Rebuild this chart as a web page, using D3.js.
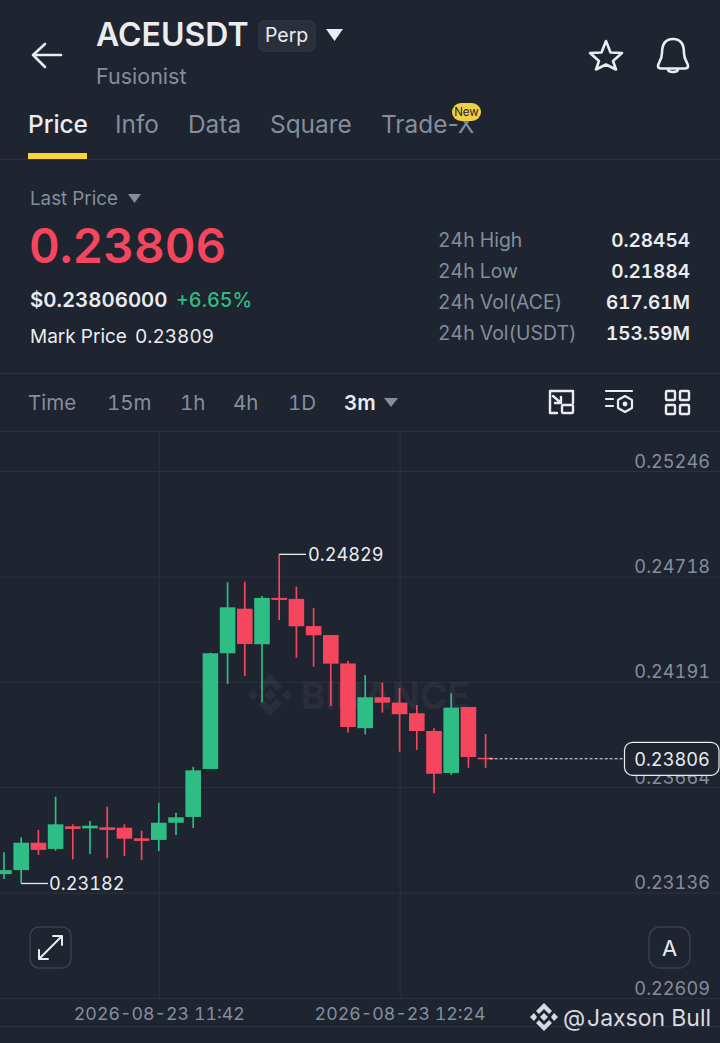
<!DOCTYPE html>
<html>
<head>
<meta charset="utf-8">
<title>ACEUSDT Perp</title>
<script src="https://cdn.jsdelivr.net/npm/d3@7"></script>
<style>
  html, body { margin: 0; padding: 0; background: #1e2430; }
  svg { display: block; }
  text { font-family: Inter, Roboto, sans-serif; font-variant-numeric: tabular-nums; }
</style>
</head>
<body>
<svg id="chart" width="720" height="1043"></svg>
<script>
// 3m candles
const times = ["11:15","11:18","11:21","11:24","11:27","11:30","11:33","11:36","11:39","11:42",
  "11:45","11:48","11:51","11:54","11:57","12:00","12:03","12:06","12:09","12:12",
  "12:15","12:18","12:21","12:24","12:27","12:30","12:33","12:36","12:39"];
const opens = [.23229,.23249,.23386,.23355,.23468,.23458,.23463,.23461,.23408,.23400,
  .23486,.23515,.23755,.24334,.24557,.24379,.24611,.24606,.24470,.24425,
  .24283,.23959,.24114,.24087,.24034,.23945,.23735,.24065,.23811];
const highs = [.23338,.23413,.23450,.23616,.23478,.23495,.23566,.23478,.23446,.23586,
  .23536,.23766,.24337,.24689,.24692,.24621,.24829,.24667,.24560,.24425,
  .24297,.24225,.24187,.24159,.24075,.23959,.24134,.24065,.23930];
const lows = [.23204,.23182,.23325,.23346,.23303,.23330,.23308,.23320,.23300,.23345,
  .23425,.23460,.23755,.24180,.24220,.24089,.24500,.24312,.24267,.24070,
  .23937,.23928,.24037,.23841,.23850,.23633,.23725,.23761,.23761];
const closes = [.23249,.23386,.23350,.23478,.23455,.23471,.23450,.23406,.23395,.23486,
  .23513,.23748,.24334,.24564,.24380,.24611,.24601,.24469,.24424,.24282,
  .23965,.24114,.24087,.24029,.23945,.23731,.24062,.23815,.23806];

const priceTicks = [0.25246, 0.24718, 0.24191, 0.23664, 0.23136, 0.22609];
const timeTicks = ["11:42", "12:24"];
const lastPrice = 0.23806, maxPrice = 0.24829, minPrice = 0.23182;

const tabs = ["Price", "Info", "Data", "Square", "Trade-X"];
const tabX = [28, 115, 188, 270, 381];
const intervals = ["Time", "15m", "1h", "4h", "1D", "3m"];
const intervalX = [28, 107, 180, 233, 288, 344];
const statLabels = ["24h High", "24h Low", "24h Vol(ACE)", "24h Vol(USDT)"];
const statValues = ["0.28454", "0.21884", "617.61M", "153.59M"];

const bg = "#1e2430", grid = "#2c323d", up = "#2ebd85", down = "#f6465d";
const grey = "#848e9c", light = "#eaecef";

const svg = d3.select("#chart");
const parseTime = d3.timeParse("%Y-%m-%d %H:%M");
const toDate = t => parseTime("2026-08-23 " + t);

svg.append("rect").attr("width", 720).attr("height", 1043).attr("fill", bg);

function label(x, y, str, size, fill, opts) {
  opts = opts || {};
  return svg.append("text")
    .attr("x", x).attr("y", y)
    .attr("font-size", size)
    .attr("fill", fill)
    .attr("font-weight", opts.weight || 400)
    .attr("text-anchor", opts.anchor || "start")
    .text(str);
}
function hline(y, x1, x2) {
  svg.append("line").attr("x1", x1 || 0).attr("x2", x2 || 720)
    .attr("y1", y).attr("y2", y).attr("stroke", grid).attr("stroke-width", 1);
}
function icon(d, sw, fill) {
  return svg.append("path").attr("d", d)
    .attr("fill", fill || "none")
    .attr("stroke", fill ? "none" : light)
    .attr("stroke-width", sw || 2.4)
    .attr("stroke-linejoin", "round")
    .attr("stroke-linecap", "round");
}

// header
icon("M33 55H61M45 44L33 55L45 67", 2.6);
label(96, 46, "ACEUSDT", 32, light, { weight: 600 });
svg.append("rect").attr("x", 259).attr("y", 21).attr("width", 56).attr("height", 30).attr("rx", 5)
  .attr("fill", "#2a303b").attr("stroke", "#343a46");
label(265, 42, "Perp", 19.5, light);
icon("M326 29H343L334.5 41Z", 0, light);
label(96, 84, "Fusionist", 21.5, grey);
icon("M606 41L610.5 52.5L622 53L613 61L616 69.5L606 64.5L596 69.5L599 61L590 53L601.5 52.5Z", 2.6);
icon("M673 39C664 39 662 46 662 53C662 60 658 63 658 66C658 68 659 68.5 661 68.5H685C687 68.5 688 68 688 66C688 63 684 60 684 53C684 46 682 39 673 39ZM668 69C668 73 678 73 678 69", 2.6);

tabs.forEach((t, i) => label(tabX[i], 133, t, 24.4, i === 0 ? light : grey, { weight: i === 0 ? 500 : 400 })
  .style("font-variant-numeric", "normal"));
svg.append("rect").attr("x", 452).attr("y", 103).attr("width", 29).attr("height", 18).attr("rx", 9).attr("fill", "#f3cf45");
label(466.5, 116, "New", 11.5, "#1e2430", { anchor: "middle" });
svg.append("rect").attr("x", 28).attr("y", 153).attr("width", 59).attr("height", 6).attr("fill", "#fcd535");
hline(159.5);

// price block
label(30, 205, "Last Price", 18.8, grey);
icon("M128 194H141L134.5 203Z", 0, grey);
label(29, 263, "0.23806", 47.5, down, { weight: 600 });
label(30, 307, "$0.23806000", 20.4, light, { weight: 600 });
label(176, 307, "+6.65%", 19.8, up, { weight: 500 });
label(30, 343, "Mark Price", 19, light);
label(135, 343, "0.23809", 19, light);
statLabels.forEach((t, i) => {
  const y = 247 + i * 31;
  label(438, y, t, 19.4, grey);
  label(690, y, statValues[i], 19, light, { weight: 600, anchor: "end" });
});
hline(373.5);

// interval bar
intervals.forEach((t, i) => label(intervalX[i], 410, t, 20.5, i === 5 ? light : grey, { weight: i === 5 ? 600 : 400 }));
icon("M384 398H398L391 407Z", 0, grey);
icon("M561 391H550V413H557M561 391H573V403M553 396L561 403M561 397V403H555", 2.4);
svg.append("rect").attr("x", 562).attr("y", 405).attr("width", 11).attr("height", 8).attr("rx", 1)
  .attr("fill", "none").attr("stroke", light).attr("stroke-width", 2.4);
icon("M606 391H632M606 399H613M606 406H613M625 396L632 400V408L625 412L618 408V400Z", 2.2);
svg.append("circle").attr("cx", 625).attr("cy", 404).attr("r", 2.4).attr("fill", light);
[[666, 391], [680, 391], [666, 405], [680, 405]].forEach(p => {
  svg.append("rect").attr("x", p[0]).attr("y", p[1]).attr("width", 9).attr("height", 9).attr("rx", 1)
    .attr("fill", "none").attr("stroke", light).attr("stroke-width", 2.4);
});
hline(431.5);

// scales
const x = d3.scaleTime()
  .domain([toDate(times[0]), toDate(times[times.length - 1])])
  .range([4, 485.6]);
const y = d3.scaleLinear()
  .domain([priceTicks[5], priceTicks[0]])
  .range([998, 471]);

// grid + axes
const yAxis = d3.axisLeft(y)
  .tickValues(priceTicks)
  .tickFormat(d3.format(".5f"))
  .tickSize(720)
  .tickPadding(0);
const yG = svg.append("g").attr("transform", "translate(720,0)").call(yAxis);
yG.select(".domain").remove();
yG.selectAll("line").attr("stroke", grid);
yG.selectAll("text")
  .attr("x", -10).attr("dy", -4)
  .attr("text-anchor", "end")
  .attr("font-size", 18.2)
  .attr("fill", grey)
  .style("font-family", "Inter, Roboto, sans-serif");

const xAxis = d3.axisBottom(x)
  .tickValues(timeTicks.map(toDate))
  .tickFormat(d3.timeFormat("%Y-%m-%d %H:%M"))
  .tickSize(566)
  .tickPadding(0);
const xG = svg.append("g").attr("transform", "translate(0,432)").call(xAxis);
xG.select(".domain").remove();
xG.selectAll("line").attr("stroke", grid);
xG.selectAll("text")
  .attr("y", 575)
  .attr("font-size", 17.8)
  .attr("fill", grey)
  .style("font-family", "Inter, Roboto, sans-serif");
hline(1026.5);

// watermark
const mark = svg.append("g").attr("opacity", 0.07).attr("fill", "#aab2c0");
mark.append("path").attr("fill-rule", "evenodd")
  .attr("d", "M270 674L282 686L277 691L270 684L263 691L258 686ZM253 690L258 695L253 700L248 695ZM287 690L292 695L287 700L282 695ZM270 689L276 695L270 701L264 695ZM258 704L263 699L270 706L277 699L282 704L270 716Z");
mark.append("text").attr("x", 301).attr("y", 709).attr("font-size", 37).attr("font-weight", 700).text("BINANCE");

// candles
const candleW = 15.6;
const candles = svg.append("g").selectAll("g")
  .data(times.map((t, i) => ({ t: toDate(t), o: opens[i], h: highs[i], l: lows[i], c: closes[i] })))
  .join("g")
  .attr("fill", d => d.c >= d.o ? up : down)
  .attr("stroke", d => d.c >= d.o ? up : down);
candles.append("line")
  .attr("x1", d => x(d.t)).attr("x2", d => x(d.t))
  .attr("y1", d => y(d.h)).attr("y2", d => y(d.l))
  .attr("stroke-width", 1.7);
candles.append("rect")
  .attr("x", d => x(d.t) - candleW / 2)
  .attr("width", candleW)
  .attr("y", d => y(Math.max(d.o, d.c)))
  .attr("height", d => Math.max(1.5, Math.abs(y(d.o) - y(d.c))))
  .attr("stroke", "none");

// high / low markers
const hiIdx = highs.indexOf(maxPrice), loIdx = lows.indexOf(minPrice);
svg.append("line").attr("x1", x(toDate(times[hiIdx]))).attr("x2", 306)
  .attr("y1", y(maxPrice)).attr("y2", y(maxPrice)).attr("stroke", light).attr("stroke-width", 1.3);
label(308, y(maxPrice) + 7, d3.format(".5f")(maxPrice), 18.2, light);
svg.append("line").attr("x1", x(toDate(times[loIdx]))).attr("x2", 48)
  .attr("y1", y(minPrice)).attr("y2", y(minPrice)).attr("stroke", light).attr("stroke-width", 1.3);
label(49, y(minPrice) + 7, d3.format(".5f")(minPrice), 18.2, light);

// last price line + tag
svg.append("line").attr("x1", x(toDate(times[28])) + 4).attr("x2", 625)
  .attr("y1", y(lastPrice)).attr("y2", y(lastPrice))
  .attr("stroke", light).attr("stroke-width", 1).attr("stroke-dasharray", "3 2");
svg.append("rect").attr("x", 624.5).attr("y", y(lastPrice) - 16.5).attr("width", 94.5).attr("height", 33).attr("rx", 8)
  .attr("fill", bg).attr("stroke", light).attr("stroke-width", 1.2);
label(672, y(lastPrice) + 7, d3.format(".5f")(lastPrice), 18.2, light, { anchor: "middle" });

// chart buttons
svg.append("rect").attr("x", 30).attr("y", 927).attr("width", 41).attr("height", 41).attr("rx", 9)
  .attr("fill", "none").attr("stroke", "#3a404c").attr("stroke-width", 1.5);
icon("M39 959L62 936M53 936H62V945M39 950V959H48", 2);
svg.append("rect").attr("x", 649).attr("y", 927).attr("width", 41).attr("height", 41).attr("rx", 11)
  .attr("fill", "none").attr("stroke", "#3a404c").attr("stroke-width", 1.5);
label(669.5, 956, "A", 22, light, { anchor: "middle" });

// credit
svg.append("path").attr("fill", "#d8dbe0").attr("fill-rule", "evenodd")
  .attr("d", "M544 1003L552 1011L549 1014L544 1009L539 1014L536 1011ZM534 1013L537 1017L534 1021L530 1017ZM554 1013L558 1017L554 1021L551 1017ZM544 1013L548 1017L544 1021L540 1017ZM536 1023L539 1020L544 1025L549 1020L552 1023L544 1031Z");
label(563, 1026, "@", 23, "#d8dbe0");
label(587, 1026, "Jaxson Bull", 23, "#d8dbe0");
</script>
</body>
</html>
